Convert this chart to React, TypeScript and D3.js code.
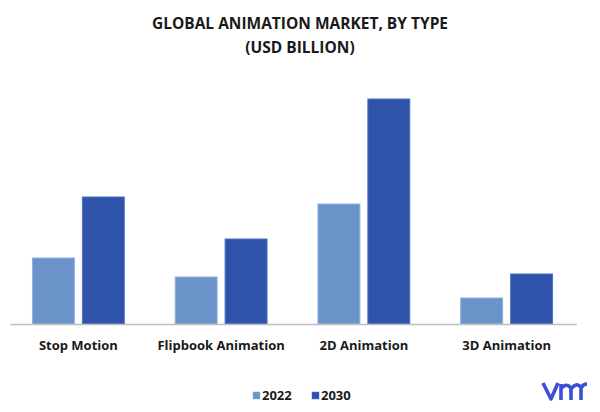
import React from 'react';
import * as d3 from 'd3';

// chart data (USD billion, estimated)
const categories = ['Stop Motion', 'Flipbook Animation', '2D Animation', '3D Animation'];
const seriesNames = ['2022', '2030'];
const values2022 = [6.6, 4.7, 12.0, 2.6];
const values2030 = [12.7, 8.5, 22.5, 5.0];

const W = 600;
const H = 412;
const font = "'Open Sans', 'Liberation Sans', sans-serif";

const fills = ['#6993c9', '#2e53a9'];
const strokes = ['#8db0de', '#4a71c6'];

export default function App() {
  const baseY = 324;

  const x0 = d3.scaleBand<string>().domain(categories).range([7, 578]).paddingInner(0).paddingOuter(0);
  const x1 = d3.scaleBand<string>().domain(seriesNames).range([0, x0.bandwidth()]).paddingInner(0.14).paddingOuter(0.5);
  const y = d3.scaleLinear().domain([0, 22.5]).range([baseY, 99]);

  const rows = categories.map((c, i) => ({ cat: c, vals: [values2022[i], values2030[i]] }));

  return (
    <svg width={W} height={H} style={{ position: 'absolute', left: 0, top: 0, background: '#fff' }}>
      <text x={W / 2} y={29} textAnchor="middle" fontFamily={font} fontWeight={700} fontSize={15.5} fill="#1a1a1a">
        GLOBAL ANIMATION MARKET, BY TYPE
      </text>
      <text x={W / 2} y={53} textAnchor="middle" fontFamily={font} fontWeight={700} fontSize={15.5} fill="#1a1a1a">
        (USD BILLION)
      </text>

      {rows.map((r) => (
        <g key={r.cat} transform={`translate(${x0(r.cat)},0)`}>
          {r.vals.map((v, j) => (
            <rect
              key={seriesNames[j]}
              x={(x1(seriesNames[j]) as number) + 0.5}
              y={y(v)}
              width={x1.bandwidth() - 1}
              height={baseY - y(v)}
              fill={fills[j]}
              stroke={strokes[j]}
              strokeWidth={1}
            />
          ))}
          <text
            x={x0.bandwidth() / 2}
            y={350}
            textAnchor="middle"
            fontFamily={font}
            fontWeight={700}
            fontSize={13}
            fill="#1a1a1a"
          >
            {r.cat}
          </text>
        </g>
      ))}

      <line x1={10} x2={577} y1={baseY + 0.5} y2={baseY + 0.5} stroke="#bfbfbf" strokeWidth={1.5} />

      {/* legend */}
      {seriesNames.map((s, i) => (
        <g key={s} transform={`translate(${253 + i * 59},0)`}>
          <rect x={0} y={392} width={7} height={7} fill={fills[i]} stroke={strokes[i]} strokeWidth={0.5} />
          <text x={9} y={400} fontFamily={font} fontWeight={700} fontSize={13} fill="#1a1a1a">
            {s}
          </text>
        </g>
      ))}

      {/* vmr logo */}
      <g fill="none" stroke="#3a4fd6" strokeWidth={3.6} strokeLinecap="butt" strokeLinejoin="round">
        <path d="M543,383 L551,399 L558,383" />
        <path d="M561,400 L561,384 M561,389 Q566,382 571,388 L571,400 M571,389 Q576,382 581,387 L581,400 M581,388 Q583,384 587,384" />
      </g>
    </svg>
  );
}
